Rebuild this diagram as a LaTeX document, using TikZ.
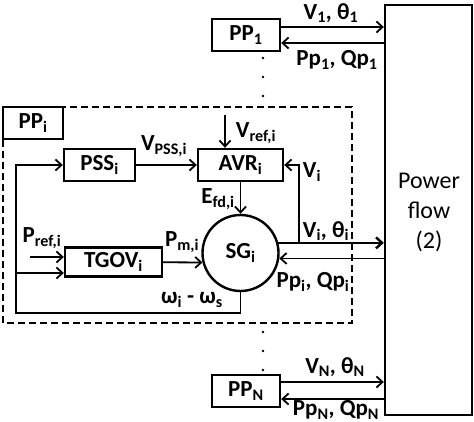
\documentclass[tikz,border=0pt]{standalone}
\usepackage{fontspec}
\setmainfont{Carlito}
\usetikzlibrary{arrows.meta}

\begin{document}
\begin{tikzpicture}[x=1pt, y=-1pt, >={Straight Barb[length=6pt,width=11pt]}, line width=1.8pt,
  box/.style={draw, line width=2.4pt, minimum height=32pt, inner sep=0pt, font=\fontsize{23}{25}\selectfont\bfseries},
  lab/.style={inner sep=0pt, font=\fontsize{23}{25}\selectfont\bfseries}]
\useasboundingbox (0,0) rectangle (474,422);

\node[box, minimum width=68pt] (pp1) at (246,35) {PP\textsubscript{1}};
\node[box, minimum width=60pt] (ppi) at (33,123) {PP\textsubscript{i}};
\node[box, minimum width=71pt] (pss) at (99.5,165) {PSS\textsubscript{i}};
\node[box, minimum width=85pt] (avr) at (240.5,165) {AVR\textsubscript{i}};
\node[box, minimum width=97pt, minimum height=29pt] (tgov) at (113.5,262) {TGOV\textsubscript{i}};
\node[box, circle, minimum size=76pt] (sg) at (240.5,253) {SG\textsubscript{i}};
\node[box, minimum width=68pt] (ppn) at (246,391) {PP\textsubscript{N}};
\node[box, minimum width=87pt, minimum height=410pt] (pf) at (428.5,210) {};
\node[align=center, font=\fontsize{24}{30}\selectfont] (pftext) at (429,212) {Power\\flow\\(2)};

\draw[line width=2.4pt, dash pattern=on 7pt off 4pt] (3,107) rectangle (352,323);
\foreach \y in {58,77,96,332,351,370}
  \fill (263,\y) circle (1.3pt);

\node[lab] (v1lab) at (331,13) {V\textsubscript{1}, θ\textsubscript{1}};
\node[lab] (pq1lab) at (337,60) {Pp\textsubscript{1}, Qp\textsubscript{1}};
\node[lab] (vpsslab) at (164,146) {V\textsubscript{PSS,i}};
\node[lab] (vreflab) at (256,133) {V\textsubscript{ref,i}};
\node[lab] (vilab) at (312,172) {V\textsubscript{i}};
\node[lab] (efdlab) at (218,199) {E\textsubscript{fd,i}};
\node[lab] (preflab) at (42,238) {P\textsubscript{ref,i}};
\node[lab] (pmlab) at (182,242) {P\textsubscript{m,i}};
\node[lab] (wlab) at (192,300) {ω\textsubscript{i} - ω\textsubscript{s}};
\node[lab] (vthlab) at (326,231) {V\textsubscript{i}, θ\textsubscript{i}};
\node[lab] (pqlab) at (313,282) {Pp\textsubscript{i}, Qp\textsubscript{i}};
\node[lab] (vnlab) at (335,367) {V\textsubscript{N}, θ\textsubscript{N}};
\node[lab] (pqnlab) at (336,410) {Pp\textsubscript{N}, Qp\textsubscript{N}};

\coordinate (vtap) at (299,243);
\coordinate (vref) at (225,115);
\coordinate (pref) at (30,257);
\coordinate (fb) at (16,313);
\coordinate (tgin) at ([yshift=-11pt]tgov.west);

% upper and lower plants
\draw[->] ([yshift=8pt]pp1.east) -- ([yshift=8pt]pp1.east -| pf.west);
\draw[->] ([yshift=-8pt]pp1.east -| pf.west) -- ([yshift=-8pt]pp1.east);
\draw[->] ([yshift=9pt]ppn.east) -- ([yshift=9pt]ppn.east -| pf.west);
\draw[->] ([yshift=-8pt]ppn.east -| pf.west) -- ([yshift=-8pt]ppn.east);

% plant i
\draw[->, line width=2.4pt] (sg.15) -- (sg.15 -| pf.west);
\draw[->] (sg.-8 -| pf.west) -- (sg.-8);
\draw[->] (vtap) |- (avr.east);
\draw[->] (vref) -- (vref |- avr.north);
\draw[->] (pss) -- (avr);
\draw[->] (avr) -- (sg);
\draw[->] (tgov) -- (sg.194);
\draw[->] (pref) -- (pref -| tgov.west);
\draw[->] (sg.south) |- (fb) |- (pss.west);
\draw[->] (fb |- tgin) -- (tgin);
\end{tikzpicture}
\end{document}
